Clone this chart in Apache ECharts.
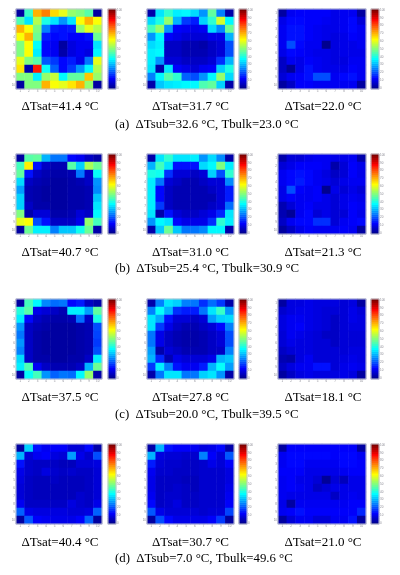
<!DOCTYPE html>
<html>
<head>
<meta charset="utf-8">
<style>
html, body { margin: 0; padding: 0; background: #fff; }
#main { width: 400px; height: 575px; filter: blur(0.4px); }
</style>
<script src="https://cdn.jsdelivr.net/npm/echarts@6/dist/echarts.min.js"></script>
</head>
<body>
<div id="main"></div>
<script>
var cells = ['1', '2', '3', '4', '5', '6', '7', '8', '9', '10'];
var colorbarTicks = [0, 10, 20, 30, 40, 50, 60, 70, 80, 90, 100];
var colorbarLevels = [
    0, 2.5, 5, 7.5, 10, 12.5, 15, 17.5, 20, 22.5,
    25, 27.5, 30, 32.5, 35, 37.5, 40, 42.5, 45, 47.5,
    50, 52.5, 55, 57.5, 60, 62.5, 65, 67.5, 70, 72.5,
    75, 77.5, 80, 82.5, 85, 87.5, 90, 92.5, 95, 97.5, 100
];

var a1 = [
    [2,43,70,75,66,60,52,50,46,2],
    [45,35,55,40,35,27,35,62,70,62],
    [70,62,50,25,15,14,15,52,60,55],
    [62,70,48,15,13,14,12,12,14,48],
    [50,62,38,13,11,2,9,11,11,35],
    [50,62,36,13,11,3,9,11,9,37],
    [60,50,46,21,18,13,15,10,24,60],
    [65,3,85,38,22,13,18,27,37,55],
    [50,50,36,52,57,37,47,47,68,52],
    [2,50,50,70,62,60,65,70,52,2]
];
var a2 = [
    [3,35,42,36,37,34,27,47,25,3],
    [34,40,52,30,18,15,33,42,58,37],
    [44,52,27,12,11,10,11,34,26,48],
    [27,37,12,10,8,8,8,10,10,30],
    [34,36,6,6,4,4,3,6,8,20],
    [36,37,6,6,4,4,4,6,8,20],
    [36,27,8,8,6,6,6,8,17,30],
    [35,3,35,12,10,8,11,12,33,40],
    [25,37,46,42,22,20,27,37,52,34],
    [3,32,35,36,37,37,45,47,33,3]
];
var a3 = [
    [2,11,12,12,12,12,10,11,11,2],
    [10,13,13,12,12,11,10,11,13,8],
    [11,14,14,12,11,10,10,11,13,11],
    [11,14,14,12,11,10,9,10,12,11],
    [11,20,13,11,11,0,9,10,10,11],
    [10,13,12,11,10,10,9,10,10,10],
    [6,11,10,12,11,10,9,9,11,11],
    [6,1,10,14,11,10,10,10,12,11],
    [8,11,12,14,20,20,11,13,14,11],
    [2,6,12,12,11,11,11,11,11,2]
];
var b1 = [
    [2,46,47,30,24,24,13,11,6,3],
    [44,64,14,6,4,4,46,33,54,48],
    [47,14,6,4,3,3,4,24,6,38],
    [34,6,4,3,2,2,3,4,6,27],
    [28,4,3,2,2,2,3,3,4,26],
    [33,4,3,2,2,2,3,3,4,32],
    [33,6,3,3,2,2,3,3,4,35],
    [50,3,8,8,3,3,4,8,6,37],
    [60,62,20,14,6,6,6,10,52,44],
    [2,48,36,36,25,32,32,39,48,3]
];
var b2 = [
    [3,35,42,35,35,36,27,34,26,3],
    [30,44,35,14,14,14,34,37,50,36],
    [40,39,17,8,8,6,8,33,20,42],
    [36,24,8,6,4,4,6,8,8,26],
    [36,13,6,4,4,4,4,6,8,15],
    [36,13,6,4,4,4,4,4,8,15],
    [36,18,6,4,4,4,4,6,8,23],
    [35,3,14,8,6,6,8,10,16,35],
    [27,37,35,13,10,10,10,17,42,36],
    [3,32,48,32,24,24,26,37,37,3]
];
var b3 = [
    [3,8,8,10,11,11,10,10,11,3],
    [8,10,12,12,12,11,3,8,12,10],
    [11,13,14,13,11,9,6,8,12,10],
    [11,13,15,13,11,10,8,10,11,11],
    [10,20,12,11,12,0,10,8,10,8],
    [10,12,11,11,12,10,8,10,11,10],
    [4,8,11,12,10,10,8,10,12,11],
    [4,1,11,13,8,10,8,8,12,10],
    [6,11,13,13,17,17,8,11,12,13],
    [2,6,10,12,11,11,11,12,11,2]
];
var c1 = [
    [2,44,37,26,23,24,13,15,6,3],
    [41,46,10,8,6,4,36,36,28,47],
    [36,13,6,4,3,3,4,23,6,40],
    [27,6,4,3,2,2,2,3,4,20],
    [24,6,3,2,2,2,2,3,4,19],
    [27,6,3,2,2,2,2,3,4,18],
    [25,6,3,2,2,2,2,3,4,20],
    [34,6,3,3,2,2,3,3,6,36],
    [36,45,11,6,4,4,4,6,30,48],
    [2,38,44,27,22,24,23,37,52,3]
];
var c2 = [
    [3,25,35,33,25,24,17,23,18,3],
    [25,38,30,17,15,15,24,35,43,27],
    [35,29,14,8,8,6,8,28,33,34],
    [35,18,10,6,4,4,6,8,13,25],
    [24,10,6,4,3,3,4,6,8,20],
    [24,10,6,4,3,3,4,6,8,20],
    [28,3,8,6,4,4,4,6,6,25],
    [30,16,4,10,8,8,8,10,30,32],
    [18,36,25,14,11,11,15,30,38,28],
    [3,24,35,35,24,24,33,35,27,3]
];
var c3 = [
    [2,9,9,10,9,9,9,8,9,2],
    [7,9,10,10,9,8,8,8,10,8],
    [9,11,11,10,9,8,6,8,10,9],
    [9,11,12,10,9,8,6,8,9,9],
    [8,11,10,9,8,6,6,8,8,8],
    [8,10,9,9,8,8,6,8,8,8],
    [6,8,9,9,8,8,8,8,9,9],
    [4,3,9,11,8,8,8,9,10,9],
    [6,9,11,11,14,14,8,10,11,10],
    [2,6,9,10,9,9,9,10,9,2]
];
var d1 = [
    [2,33,14,11,12,12,8,8,13,3],
    [30,8,11,12,9,8,28,10,7,20],
    [14,7,6,6,6,5,5,8,8,9],
    [10,7,6,9,7,6,7,6,6,8],
    [9,6,5,5,6,5,5,5,6,8],
    [8,6,5,5,5,5,5,5,6,8],
    [8,6,5,5,5,5,5,7,6,8],
    [11,6,6,6,6,6,9,7,6,10],
    [22,10,9,9,9,9,8,8,9,22],
    [2,21,12,11,10,10,10,12,22,2]
];
var d2 = [
    [3,30,14,12,12,11,9,10,13,3],
    [30,9,8,8,7,7,25,12,8,21],
    [15,8,7,7,6,6,7,10,8,12],
    [11,7,7,6,6,6,7,7,7,9],
    [10,6,6,6,5,5,7,7,7,9],
    [10,6,6,7,6,5,7,7,7,10],
    [11,6,7,7,6,6,7,7,7,11],
    [13,6,7,9,6,6,7,7,7,12],
    [21,10,8,8,8,8,7,8,8,19],
    [2,20,13,10,10,10,10,12,18,2]
];
var d3 = [
    [2,12,12,12,12,12,12,12,12,2],
    [11,13,13,13,13,13,12,13,13,11],
    [11,13,13,11,11,11,11,13,13,12],
    [12,12,12,10,10,10,10,11,12,12],
    [11,12,10,10,8,1,8,5,10,10],
    [11,12,11,10,6,8,10,10,10,10],
    [11,10,10,10,10,10,6,10,11,10],
    [10,2,11,11,11,11,11,11,12,12],
    [11,12,14,12,12,12,12,12,12,16],
    [2,8,11,11,8,8,11,11,14,2]
];

var panels = [a1, a2, a3, b1, b2, b3, c1, c2, c3, d1, d2, d3];
var tsatLabels = [
    'ΔTsat=41.4 °C', 'ΔTsat=31.7 °C', 'ΔTsat=22.0 °C',
    'ΔTsat=40.7 °C', 'ΔTsat=31.0 °C', 'ΔTsat=21.3 °C',
    'ΔTsat=37.5 °C', 'ΔTsat=27.8 °C', 'ΔTsat=18.1 °C',
    'ΔTsat=40.4 °C', 'ΔTsat=30.7 °C', 'ΔTsat=21.0 °C'
];
var captions = [
    '(a)  ΔTsub=32.6 °C, Tbulk=23.0 °C',
    '(b)  ΔTsub=25.4 °C, Tbulk=30.9 °C',
    '(c)  ΔTsub=20.0 °C, Tbulk=39.5 °C',
    '(d)  ΔTsub=7.0 °C, Tbulk=49.6 °C'
];

// layout of the page, in pixels
var colLeft = [16, 147, 278];
var colWidth = [86, 87, 88];
var barLeft = [108, 239, 371];
var labelCenter = [60, 190.5, 323];
var rowTop = [9, 154, 299, 444];
var tsatY = [107, 253, 398, 543];
var captionY = [125, 269, 415, 559];
var mapHeight = 80;
var jet = ['#00008f', '#0000ff', '#0080ff', '#00ffff', '#80ff80', '#ffff00', '#ff8000', '#ff0000', '#800000'];
var frameColor = '#c3c6d0';
var tickColor = '#8a8a94';

var grids = [], xAxes = [], yAxes = [], series = [], texts = [];

function tinyLabel(extra) {
    var label = { fontSize: 3, margin: 1, color: tickColor, fontFamily: 'Liberation Sans' };
    for (var k in extra) label[k] = extra[k];
    return label;
}

function addHeatmap(left, top, width, xData, yData, data, isBar) {
    var idx = grids.length;
    var tick = { alignWithLabel: true, length: 1, lineStyle: { color: frameColor, width: 0.5 } };
    grids.push({
        left: left, top: top, width: width, height: mapHeight,
        show: true, borderColor: frameColor, borderWidth: 1, backgroundColor: 'transparent', z: 3
    });
    xAxes.push({
        gridIndex: idx, type: 'category', data: xData, position: 'bottom', show: !isBar,
        axisLine: { show: false }, splitLine: { show: false }, axisTick: tick,
        axisLabel: tinyLabel({ interval: 0 })
    });
    yAxes.push({
        gridIndex: idx, type: 'category', data: yData, inverse: !isBar,
        position: isBar ? 'right' : 'left',
        axisLine: { show: false }, splitLine: { show: false },
        axisTick: isBar ? {
            alignWithLabel: true, length: 1, lineStyle: tick.lineStyle,
            interval: function (i, v) { return colorbarTicks.indexOf(+v) >= 0; }
        } : tick,
        axisLabel: tinyLabel({
            interval: isBar ? function (i, v) { return colorbarTicks.indexOf(+v) >= 0; } : 0
        })
    });
    series.push({
        type: 'heatmap', xAxisIndex: idx, yAxisIndex: idx, data: data,
        progressive: 0, animation: false, silent: true
    });
}

panels.forEach(function (rows, i) {
    var col = i % 3;
    var row = Math.floor(i / 3);
    var data = [];
    rows.forEach(function (vals, y) {
        vals.forEach(function (v, x) {
            data.push([x, y, v]);
        });
    });
    addHeatmap(colLeft[col], rowTop[row], colWidth[col], cells, cells, data, false);

    var barData = colorbarLevels.map(function (v, y) { return [0, y, v]; });
    addHeatmap(barLeft[col], rowTop[row], 8, ['0'], colorbarLevels.map(String), barData, true);

    texts.push({
        type: 'text', x: labelCenter[col], y: tsatY[row],
        style: {
            text: tsatLabels[i], font: '13px "Liberation Serif"', fill: '#000',
            textAlign: 'center', textVerticalAlign: 'middle'
        }
    });
});

captions.forEach(function (text, i) {
    texts.push({
        type: 'text', x: 115, y: captionY[i],
        style: {
            text: text, font: '12.8px "Liberation Serif"', fill: '#000',
            textAlign: 'left', textVerticalAlign: 'middle'
        }
    });
});

var myChart = echarts.init(document.getElementById('main'), null, { renderer: 'canvas' });
myChart.setOption({
    backgroundColor: '#fff',
    animation: false,
    tooltip: { show: false },
    grid: grids,
    xAxis: xAxes,
    yAxis: yAxes,
    visualMap: { type: 'continuous', min: 0, max: 100, show: false, inRange: { color: jet } },
    series: series,
    graphic: { elements: texts }
});
</script>
</body>
</html>
